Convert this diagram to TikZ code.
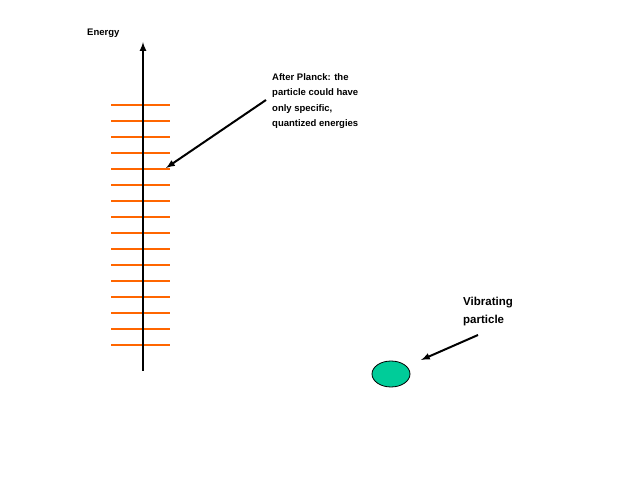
\documentclass[tikz,border=0pt]{standalone}
\usepackage{fontspec}
\usetikzlibrary{shapes.geometric}
\setmainfont{Liberation Sans}
\begin{document}
\begin{tikzpicture}[x=1pt,y=-1pt,
  lvl/.style={draw={rgb,255:red,255;green,102;blue,0},line width=2pt},
  lbl/.style={font=\bfseries\fontsize{9.5}{15.5}\selectfont,align=left,anchor=north west,inner sep=0pt},
  arr/.style={-latex,line width=2pt}]
\useasboundingbox[fill=white] (0,0) rectangle (638,478);
\foreach \i in {0,...,15}{\draw[lvl] (111,{105+16*\i}) -- (170,{105+16*\i});}
\coordinate (ab) at (143,371);
\coordinate (at) at (143,42);
\draw[arr] (ab) -- (at);
\node[lbl,anchor=west] (energy) at (87,33) {Energy};
\node[lbl] (planck) at (272,73) {After Planck: the\\particle could have\\only specific,\\quantized energies};
\coordinate (pa) at (266,100);
\coordinate (pb) at (166,168);
\draw[arr] (pa) -- (pb);
\node[lbl,font=\bfseries\fontsize{11.5}{18}\selectfont] (vib) at (463,297) {Vibrating\\particle};
\node[ellipse,draw,fill={rgb,255:red,0;green,204;blue,153},minimum width=38pt,minimum height=26pt,line width=0.8pt] (p) at (391,374) {};
\coordinate (va) at (478,335);
\draw[arr] (va) -- (421,360);
\end{tikzpicture}
\end{document}
